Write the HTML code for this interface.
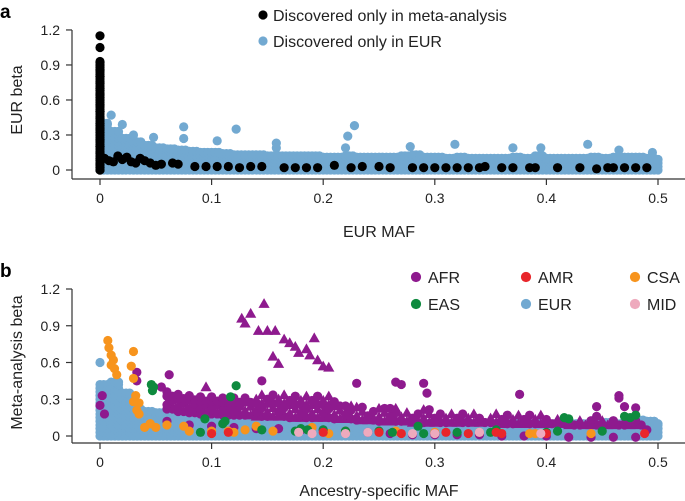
<!DOCTYPE html>
<html><head><meta charset="utf-8">
<style>
html,body{margin:0;padding:0;background:#fff;}
svg{display:block;font-family:"Liberation Sans",sans-serif;}
</style></head>
<body>
<svg id="fig" width="685" height="501" viewBox="0 0 685 501"></svg>
<script>
// ---------- DATA ----------
const ticksX = [0, 0.1, 0.2, 0.3, 0.4, 0.5];
const tickLabelsX = ["0", "0.1", "0.2", "0.3", "0.4", "0.5"];
const ticksY = [0, 0.3, 0.6, 0.9, 1.2];
const tickLabelsY = ["0", "0.3", "0.6", "0.9", "1.2"];

// Panel a: EUR-only cloud envelope (per MAF bin)
const aBins = [0,0.01,0.02,0.03,0.04,0.05,0.06,0.07,0.08,0.09,0.10,0.11,0.12,0.13,0.14,0.15,0.16,0.17,0.18,0.19,0.20,0.21,0.22,0.23,0.24,0.25,0.26,0.27,0.28,0.29,0.30,0.31,0.32,0.33,0.34,0.35,0.36,0.37,0.38,0.39,0.40,0.41,0.42,0.43,0.44,0.45,0.46,0.47,0.48,0.49,0.50];
const aEurUpper = [0.40,0.33,0.27,0.24,0.21,0.19,0.18,0.17,0.16,0.15,0.15,0.14,0.13,0.13,0.13,0.12,0.12,0.12,0.12,0.12,0.11,0.11,0.12,0.11,0.11,0.11,0.11,0.12,0.13,0.11,0.11,0.10,0.11,0.10,0.10,0.10,0.10,0.11,0.10,0.12,0.10,0.10,0.10,0.10,0.11,0.10,0.11,0.11,0.11,0.10,0.09];
const aEurOutMaf = [0.01,0.02,0.03,0.048,0.075,0.075,0.105,0.122,0.158,0.158,0.22,0.222,0.228,0.278,0.318,0.37,0.395,0.437,0.465,0.495];
const aEurOutBeta = [0.47,0.39,0.30,0.28,0.37,0.27,0.25,0.35,0.23,0.19,0.19,0.29,0.38,0.20,0.22,0.19,0.19,0.22,0.17,0.15];
// Panel a: meta-only (black)
const aMetaColBeta = [0,0.05,0.1,0.15,0.2,0.25,0.3,0.35,0.4,0.45,0.5,0.55,0.6,0.65,0.7,0.75,0.8,0.85,0.9,0.93,1.05,1.15];
const aMetaMaf = [0.004,0.008,0.012,0.016,0.02,0.024,0.028,0.032,0.036,0.04,0.045,0.05,0.055,0.065,0.07,0.085,0.095,0.105,0.115,0.125,0.135,0.145,0.165,0.175,0.185,0.195,0.21,0.225,0.235,0.25,0.26,0.28,0.29,0.3,0.31,0.32,0.33,0.34,0.345,0.36,0.37,0.385,0.39,0.41,0.43,0.445,0.455,0.46,0.47,0.48,0.49];
const aMetaBeta = [0.10,0.08,0.07,0.12,0.09,0.11,0.07,0.06,0.10,0.08,0.06,0.04,0.05,0.06,0.05,0.03,0.03,0.03,0.03,0.02,0.03,0.03,0.02,0.02,0.02,0.02,0.04,0.02,0.03,0.03,0.02,0.02,0.02,0.02,0.02,0.02,0.02,0.02,0.03,0.02,0.02,0.02,0.02,0.02,0.02,0.01,0.02,0.02,0.02,0.02,0.02];

// Panel b: EUR cloud envelope
const bBins = aBins;
const bEurUpper = [0.42,0.44,0.35,0.22,0.20,0.19,0.17,0.16,0.15,0.14,0.14,0.13,0.13,0.12,0.12,0.12,0.12,0.11,0.11,0.11,0.11,0.11,0.12,0.11,0.10,0.10,0.10,0.10,0.10,0.10,0.10,0.10,0.11,0.10,0.10,0.10,0.10,0.11,0.10,0.11,0.10,0.10,0.10,0.10,0.11,0.11,0.10,0.12,0.13,0.12,0.10];
// Panel b: AFR band (circles/triangles)
const afrBins = [0.06,0.07,0.08,0.09,0.10,0.11,0.12,0.13,0.14,0.15,0.16,0.17,0.18,0.19,0.20,0.21,0.22,0.23,0.24,0.25,0.26,0.27,0.28,0.29,0.30,0.31,0.32,0.33,0.34,0.35,0.36,0.37,0.38,0.39,0.40,0.41,0.42,0.43,0.44,0.45,0.46,0.47,0.48];
const afrLow = [0.22,0.20,0.19,0.18,0.18,0.17,0.17,0.17,0.16,0.16,0.16,0.15,0.15,0.15,0.15,0.14,0.14,0.13,0.13,0.12,0.12,0.12,0.11,0.11,0.11,0.11,0.11,0.11,0.11,0.11,0.10,0.10,0.10,0.10,0.10,0.10,0.09,0.09,0.09,0.09,0.09,0.09,0.09];
const afrHigh = [0.38,0.36,0.35,0.32,0.32,0.33,0.32,0.33,0.35,0.36,0.36,0.34,0.35,0.34,0.34,0.30,0.27,0.25,0.22,0.24,0.24,0.22,0.21,0.22,0.21,0.19,0.18,0.20,0.17,0.18,0.19,0.18,0.19,0.18,0.16,0.15,0.14,0.13,0.16,0.15,0.14,0.13,0.14];
const afrTriMaf = [0.127,0.135,0.13,0.142,0.147,0.15,0.155,0.16,0.165,0.17,0.175,0.178,0.185,0.188,0.192,0.195,0.2,0.205,0.157,0.095];
const afrTriBeta = [0.96,1.00,0.92,0.86,1.08,0.86,0.65,0.59,0.79,0.76,0.73,0.68,0.71,0.66,0.80,0.62,0.57,0.56,0.86,0.40];
const afrOutMaf = [0.0,0.002,0.004,0.033,0.033,0.062,0.055,0.145,0.23,0.265,0.27,0.29,0.293,0.376,0.445,0.465,0.465,0.47,0.48,0.49];
const afrOutBeta = [0.25,0.33,0.18,0.52,0.45,0.50,0.40,0.45,0.43,0.44,0.42,0.43,0.35,0.34,0.24,0.33,0.31,0.24,0.23,0.05];
const csaMaf = [0.007,0.008,0.01,0.012,0.013,0.015,0.01,0.03,0.028,0.032,0.035,0.03,0.033,0.035,0.03,0.045,0.05,0.06,0.075,0.08,0.1,0.115,0.12,0.13,0.14,0.155,0.19,0.205,0.22,0.265,0.3,0.34,0.385,0.39,0.44,0.045,0.04];
const csaBeta = [0.78,0.72,0.66,0.62,0.55,0.50,0.58,0.69,0.57,0.33,0.27,0.28,0.21,0.18,0.47,0.10,0.07,0.09,0.08,0.04,0.04,0.04,0.03,0.05,0.08,0.04,0.07,0.02,0.04,0.04,0.03,0.03,0.02,0.02,0.02,0.10,0.07];
const easMaf = [0.046,0.047,0.048,0.094,0.11,0.112,0.117,0.122,0.145,0.175,0.18,0.186,0.22,0.25,0.262,0.285,0.29,0.32,0.35,0.355,0.4,0.41,0.416,0.42,0.45,0.47,0.475,0.48,0.09,0.2];
const easBeta = [0.42,0.37,0.40,0.14,0.10,0.12,0.32,0.41,0.05,0.04,0.06,0.05,0.04,0.04,0.03,0.08,0.02,0.03,0.03,0.05,0.03,0.04,0.15,0.14,0.04,0.16,0.15,0.17,0.03,0.05];
const amrMaf = [0.1,0.115,0.2,0.25,0.27,0.3,0.31,0.33,0.355,0.36,0.4,0.488];
const amrBeta = [0.02,0.03,0.03,0.03,0.02,0.02,0.03,0.02,0.03,0.02,0.02,0.02];
const midMaf = [0.178,0.19,0.22,0.24,0.28,0.3,0.34,0.395];
const midBeta = [0.03,0.02,0.02,0.03,0.02,0.02,0.03,0.02];

// ---------- DRAW ----------
const NS = "http://www.w3.org/2000/svg";
const svg = document.getElementById("fig");
const C = {blue:"#72a9d1", black:"#000", purple:"#8e1a8e", orange:"#f7941d", green:"#0e8a3e", red:"#e8262b", pink:"#eeaabd"};
function mk(tag, attrs, parent){ const e=document.createElementNS(NS,tag); for(const k in attrs) e.setAttribute(k,attrs[k]); (parent||svg).appendChild(e); return e; }
const X = v => 100 + v*1116;
const Ya = v => 170 - v*116.7;
const Yb = v => 436 - v*122.5;
const R = 4.6;

function axes(Y, axisY, xTitle, yTitle, pname, g, titleOff){
  const ax = mk("g",{},g);
  
  
  mk("line",{x1:72,y1:Y(1.2),x2:72,y2:axisY,stroke:"#333","stroke-width":1.2},ax);
  mk("line",{x1:72,y1:axisY,x2:685,y2:axisY,stroke:"#333","stroke-width":1.2},ax);
  ticksY.forEach((t,i)=>{
    mk("line",{x1:66,y1:Y(t),x2:72,y2:Y(t),stroke:"#333","stroke-width":1.2},ax);
    const tx=mk("text",{x:60,y:Y(t)+5,"text-anchor":"end","font-size":14,fill:"#222"},ax);
    tx.textContent=tickLabelsY[i];
    
    
  });
  ticksX.forEach((t,i)=>{
    mk("line",{x1:X(t),y1:axisY,x2:X(t),y2:axisY+6,stroke:"#333","stroke-width":1.2},ax);
    const tx=mk("text",{x:X(t),y:axisY+24,"text-anchor":"middle","font-size":14,fill:"#222"},ax);
    tx.textContent=tickLabelsX[i];
    
    
  });
  const xt=mk("text",{x:X(0.25),y:axisY+titleOff,"text-anchor":"middle","font-size":16,fill:"#222"},ax);
  xt.textContent=xTitle;
  
  
  const cy=(Y(0)+Y(1.2))/2;
  const yt=mk("text",{x:22,y:cy,"text-anchor":"middle","font-size":16,fill:"#222",transform:`rotate(-90 22 ${cy})`},ax);
  yt.textContent=yTitle;
  
  
}
function dot(x,y,col,g){ const c=mk("circle",{cx:x,cy:y,r:R,fill:col},g);
  
  
  return c; }
function tri(x,y,col,g){ const s=5.6; const p=mk("polygon",{points:`${x},${y-s} ${x-s},${y+s*0.75} ${x+s},${y+s*0.75}`,fill:col},g);
  
  
  return p; }
function cloud(bins, upper, Y, col, g){
  bins.forEach((b,i)=>{
    const u=upper[i];
    [0,0.0033,0.0066].forEach(off=>{
      if(b+off>0.5) return;
      for(let v=0; v<=u; v+=0.03) dot(X(b+off), Y(v), col, g);
      dot(X(b+off), Y(u), col, g);
    });
  });
}

// Panel labels
const la=mk("text",{x:0,y:18,"font-size":19,"font-weight":"bold",fill:"#000"}); la.textContent="a";


const lb=mk("text",{x:0,y:277,"font-size":19,"font-weight":"bold",fill:"#000"}); lb.textContent="b";



// ----- Panel a -----
const ga=mk("g",{});


axes(Ya, 179, "EUR MAF", "EUR beta", "panel-a", ga, 58);
const gaEur=mk("g",{},ga);


cloud(aBins, aEurUpper, Ya, C.blue, gaEur);
aEurOutMaf.forEach((m,i)=>dot(X(m),Ya(aEurOutBeta[i]),C.blue,gaEur));
const gaMeta=mk("g",{},ga);


aMetaColBeta.forEach(b=>{ dot(X(0),Ya(b),C.black,gaMeta); });
for(let v=0; v<0.93; v+=0.02) dot(X(0),Ya(v),C.black,gaMeta);
aMetaMaf.forEach((m,i)=>dot(X(m),Ya(aMetaBeta[i]),C.black,gaMeta));
// legend a
const lga=mk("g",{},ga);


[["Discovered only in meta-analysis",C.black,15],["Discovered only in EUR",C.blue,41]].forEach(([t,c,y])=>{
  const e=mk("g",{},lga);
  
  
  mk("circle",{cx:263,cy:y,r:R,fill:c},e);
  const tx=mk("text",{x:273,y:y+6,"font-size":16,fill:"#222"},e); tx.textContent=t;
});

// ----- Panel b -----
const gb=mk("g",{});


axes(Yb, 443, "Ancestry-specific MAF", "Meta-analysis beta", "panel-b", gb, 53);
const gbEur=mk("g",{},gb);


cloud(bBins, bEurUpper, Yb, C.blue, gbEur);
dot(X(0),Yb(0.6),C.blue,gbEur);
const gbAfr=mk("g",{},gb);


afrBins.forEach((b,i)=>{
  let k=0;
  for(let v=afrLow[i]; v<=afrHigh[i]+0.001; v+=0.035){
    [0,0.005].forEach((off,j)=>{
      if((k+j)%3===2) return;
      const x=X(b+off), y=Yb(v);
      if(b>0.12 && (k+j+i)%2===0) tri(x,y,C.purple,gbAfr); else dot(x,y,C.purple,gbAfr);
    });
    k++;
  }
  if(i%2===0) dot(X(b),Yb(afrLow[i]-0.1),C.purple,gbAfr);
});
afrTriMaf.forEach((m,i)=>tri(X(m),Yb(afrTriBeta[i]),C.purple,gbAfr));
afrOutMaf.forEach((m,i)=>dot(X(m),Yb(afrOutBeta[i]),C.purple,gbAfr));
[["series-csa",csaMaf,csaBeta,C.orange],["series-eas",easMaf,easBeta,C.green],["series-amr",amrMaf,amrBeta,C.red],["series-mid",midMaf,midBeta,C.pink]].forEach(([n,ms,bs,c])=>{
  const g=mk("g",{},gb);
  
  
  ms.forEach((m,i)=>dot(X(m),Yb(bs[i]),c,g));
});
// legend b
const lgb=mk("g",{},gb);


[["AFR",C.purple,416,277],["AMR",C.red,526,277],["CSA",C.orange,635,277],["EAS",C.green,416,304],["EUR",C.blue,526,304],["MID",C.pink,635,304]].forEach(([t,c,x,y])=>{
  const e=mk("g",{},lgb);
  
  
  mk("circle",{cx:x,cy:y,r:R+0.5,fill:c},e);
  const tx=mk("text",{x:x+12,y:y+6,"font-size":16,fill:"#222"},e); tx.textContent=t;
});
</script>
</body></html>
